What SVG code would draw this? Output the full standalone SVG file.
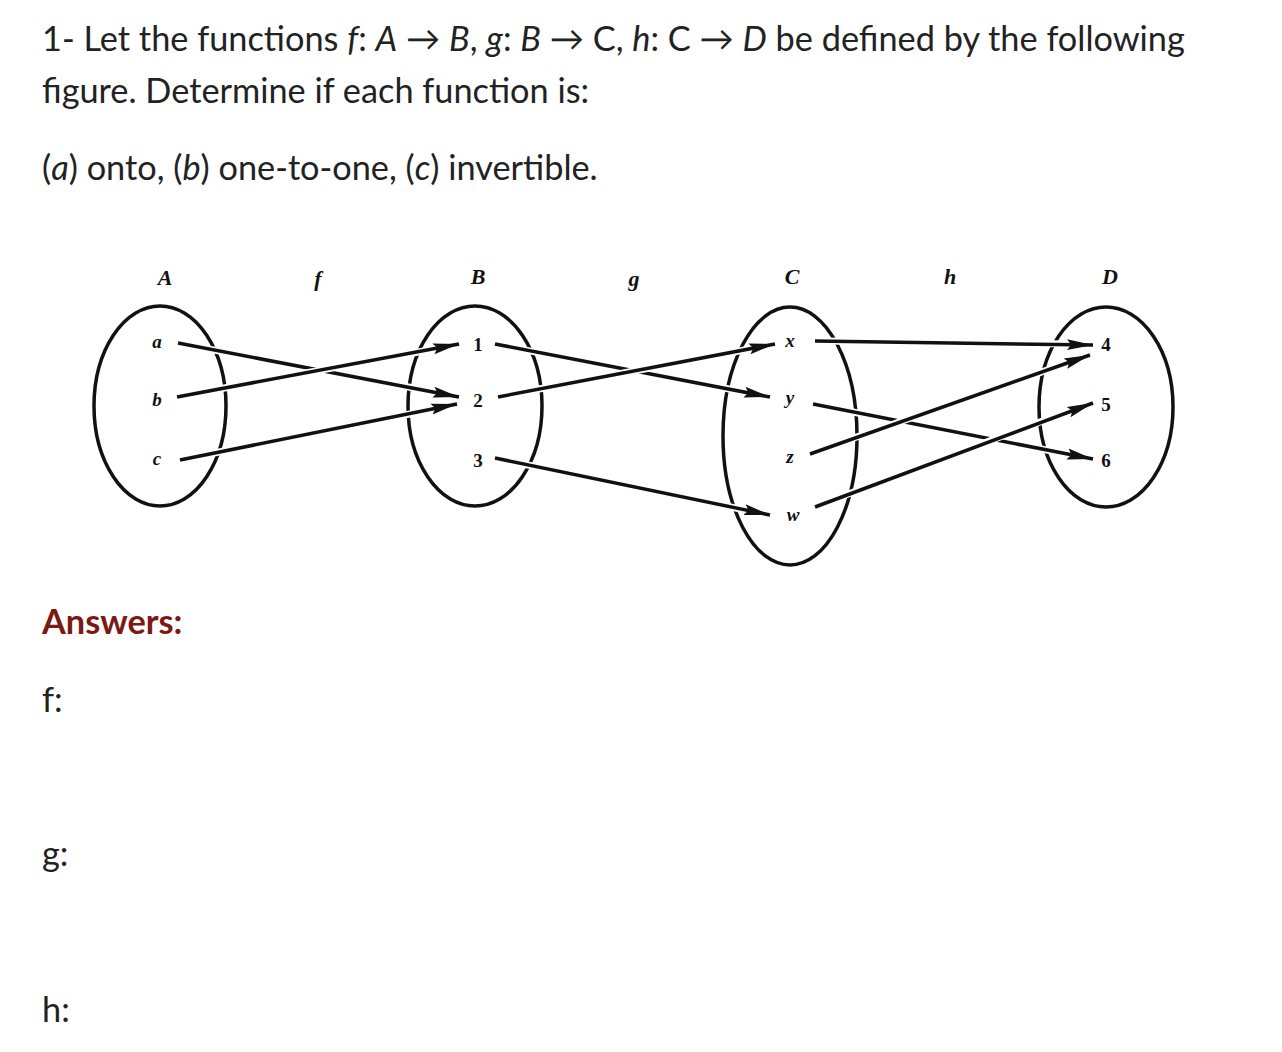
<svg xmlns="http://www.w3.org/2000/svg" width="1282" height="1052" viewBox="0 0 1282 1052">
<style>
.t{font-family:Lato,"Liberation Sans",sans-serif;font-size:34.3px;fill:#222}
.i{font-style:italic}
.ans{font-family:Lato,"Liberation Sans",sans-serif;font-size:34.3px;font-weight:bold;fill:#7b1a12}
.set{font-family:"Liberation Serif","DejaVu Serif",serif;font-style:italic;font-weight:bold;font-size:22px;fill:#111;text-anchor:middle}
.el{font-family:"Liberation Serif","DejaVu Serif",serif;font-style:italic;font-weight:bold;font-size:19px;fill:#111;text-anchor:middle}
.num{font-style:normal}
.ell{fill:none;stroke:#111;stroke-width:3.5}
.halo{fill:none;stroke:#fff;stroke-width:7}
.ln{fill:none;stroke:#111;stroke-width:3.5;marker-end:url(#ah)}
</style>
<defs>
<marker id="ah" markerUnits="userSpaceOnUse" markerWidth="28" markerHeight="14" refX="26" refY="7" orient="auto">
<path d="M0,1.5 L26,7 L0,12.5 L4,7 Z" fill="#111"/>
</marker>
</defs>
<rect width="1282" height="1052" fill="#fff"/>
<g id="question">
<text class="t" x="42" y="51">1- Let the functions <tspan class="i">f</tspan>: <tspan class="i">A</tspan> → <tspan class="i">B</tspan>, <tspan class="i">g</tspan>: <tspan class="i">B</tspan> → C, <tspan class="i">h</tspan>: C → <tspan class="i">D</tspan> be defined by the following</text>
<text class="t" x="42" y="103">figure. Determine if each function is:</text>
<text class="t" x="42" y="180">(<tspan class="i">a</tspan>) onto, (<tspan class="i">b</tspan>) one-to-one, (<tspan class="i">c</tspan>) invertible.</text>
</g>
<g id="setA">
<ellipse class="ell" cx="160" cy="406" rx="66" ry="100"/>
<text class="set" x="165" y="285">A</text>
<text class="el" x="157" y="348">a</text>
<text class="el" x="157" y="406">b</text>
<text class="el" x="157" y="465">c</text>
</g>
<g id="setB">
<ellipse class="ell" cx="475" cy="406" rx="67" ry="100"/>
<text class="set" x="478" y="284">B</text>
<text class="el num" x="478" y="351">1</text>
<text class="el num" x="478" y="407">2</text>
<text class="el num" x="478" y="467">3</text>
</g>
<g id="setC">
<ellipse class="ell" cx="790" cy="436" rx="67" ry="129"/>
<text class="set" x="792" y="284">C</text>
<text class="el" x="790" y="347">x</text>
<text class="el" x="790" y="404">y</text>
<text class="el" x="790" y="463">z</text>
<text class="el" x="793" y="521">w</text>
</g>
<g id="setD">
<ellipse class="ell" cx="1106" cy="407" rx="67" ry="100"/>
<text class="set" x="1110" y="284">D</text>
<text class="el num" x="1106" y="351">4</text>
<text class="el num" x="1106" y="411">5</text>
<text class="el num" x="1106" y="467">6</text>
</g>
<g id="function-labels">
<text class="set" x="318" y="286">f</text>
<text class="set" x="634" y="286">g</text>
<text class="set" x="950" y="284">h</text>
</g>
<g id="connectors">
<path class="halo" d="M182,344 L440,393"/><path class="ln" d="M178,343 L459,397"/>
<path class="halo" d="M181,396 L440,348"/><path class="ln" d="M177,397 L459,344"/>
<path class="halo" d="M184,459 L440,408"/><path class="ln" d="M180,460 L457,404"/>
<path class="halo" d="M499,345 L750,393"/><path class="ln" d="M495,344 L770,397"/>
<path class="halo" d="M502,396 L755,348"/><path class="ln" d="M498,397 L775,344"/>
<path class="halo" d="M499,459 L750,511"/><path class="ln" d="M495,458 L770,515"/>
<path class="halo" d="M819,341 L1072,344"/><path class="ln" d="M815,341 L1093,345"/>
<path class="halo" d="M817,405 L1072,455"/><path class="ln" d="M813,404 L1093,459"/>
<path class="halo" d="M814,452 L1070,362"/><path class="ln" d="M810,454 L1090,355"/>
<path class="halo" d="M819,505 L1072,410"/><path class="ln" d="M815,507 L1093,403"/>
</g>
<g id="answers">
<text class="ans" x="42" y="634">Answers:</text>
<text class="t" x="42" y="712">f:</text>
<text class="t" x="42" y="866">g:</text>
<text class="t" x="42" y="1022">h:</text>
</g>
</svg>
